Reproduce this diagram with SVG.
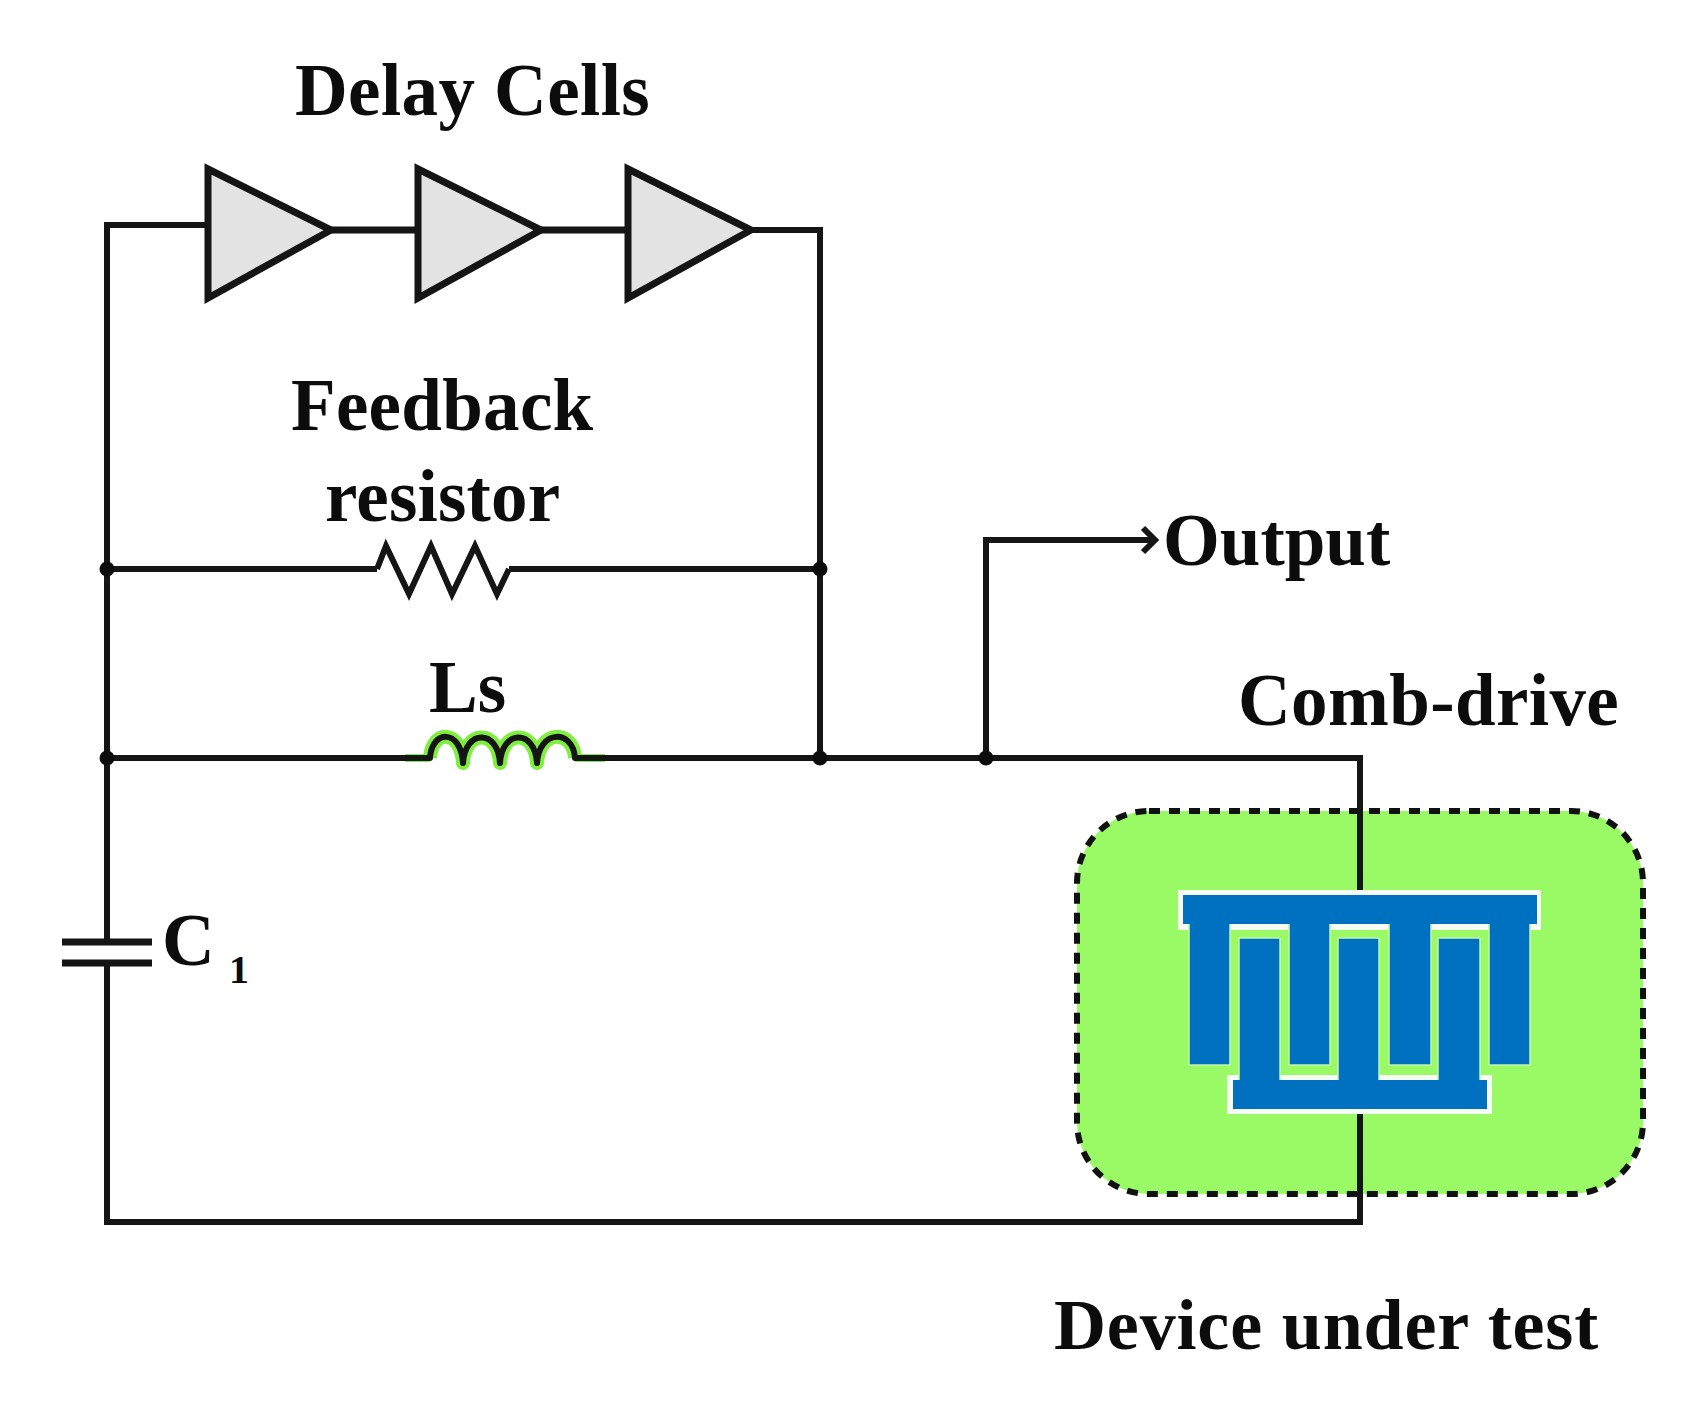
<svg xmlns="http://www.w3.org/2000/svg" width="1704" height="1417" viewBox="0 0 1704 1417">
<style>
.w{fill:none;stroke:#151515;stroke-width:6;stroke-linejoin:miter}
.b{fill:#0070c0;stroke:#c4f5b0;stroke-width:1.5}
.p{fill:#0070c0}
.h{fill:#f6fbf4}
.t{font-family:"Liberation Serif","Times New Roman",serif;font-weight:700;font-size:73px;fill:#0c0c0c}
.tri{fill:#e3e3e3;stroke:#151515;stroke-width:7}
.d{fill:#0c0c0c}
</style>
<defs>
<marker id="arr" markerUnits="userSpaceOnUse" markerWidth="24" markerHeight="36" refX="16" refY="18" orient="auto"><path d="M4,6 L16,18 L4,30" fill="none" stroke="#151515" stroke-width="6"/></marker>
</defs>
<rect width="1704" height="1417" fill="#fff"/>
<g id="dut">
<rect x="1077" y="811" width="566" height="383" rx="72" fill="#99fa66" stroke="#111" stroke-width="6" stroke-dasharray="11 9"/>
</g>
<g id="connectors">
<path class="w" d="M210,225 H107 V942"/>
<path class="w" d="M107,963 V1222 H1360 V1105"/>
<path class="w" d="M1360,897 V758 H605"/>
<path class="w" d="M405,758 H107"/>
<path class="w" style="stroke-width:7" d="M330,230 H422 M540,230 H632"/>
<path class="w" d="M751,230 H820 V758"/>
<path class="w" d="M107,569 H377 M509,569 H820"/>
<path class="w" d="M986,758 V540 H1155" marker-end="url(#arr)"/>
</g>
<g id="comb-drive">
<path class="h" d="M1178,890 H1541 V930 H1178Z"/>
<path class="h" d="M1227,1075 H1492 V1114 H1227Z"/>
<rect x="1189" y="900" width="41" height="165" class="b"/>
<rect x="1289" y="900" width="41" height="165" class="b"/>
<rect x="1389" y="900" width="42" height="165" class="b"/>
<rect x="1489" y="900" width="41" height="165" class="b"/>
<rect x="1183" y="895" width="354" height="29" class="p"/>
<rect x="1239" y="938" width="41" height="150" class="b"/>
<rect x="1338" y="938" width="41" height="150" class="b"/>
<rect x="1438" y="938" width="42" height="150" class="b"/>
<rect x="1233" y="1080" width="254" height="29" class="p"/>
</g>
<g id="delay-cell-1"><path class="tri" d="M208,169 V298 L331,230Z"/></g>
<g id="delay-cell-2"><path class="tri" d="M418,169 V298 L541,230Z"/></g>
<g id="delay-cell-3"><path class="tri" d="M628,169 V298 L751,230Z"/></g>
<g id="feedback-resistor"><path class="w" d="M377,569 L386,546 L409,594 L431,546 L452,594 L475,546 L497,594 L509,569"/></g>
<g id="inductor">
<path d="M405,758 H430" fill="none" stroke="#7fee3f" stroke-width="8"/>
<path d="M575,758 H605" fill="none" stroke="#7fee3f" stroke-width="8"/>
<path d="M430,758 C432,729 461,729 463,763 C465,729 498,729 500,763 C502,729 535,729 537,763 C539,729 573,729 575,758" fill="none" stroke="#7fee3f" stroke-width="14" stroke-linejoin="round"/>
<path class="w" style="stroke-linejoin:round" d="M405,758 H430 C432,729 461,729 463,763 C465,729 498,729 500,763 C502,729 535,729 537,763 C539,729 573,729 575,758 H605"/>
</g>
<g id="capacitor"><path class="w" style="stroke-width:7" d="M62,942 H152 M62,963 H152"/></g>
<g id="junctions">
<circle class="d" cx="107" cy="569" r="7.5"/>
<circle class="d" cx="820" cy="569" r="7.5"/>
<circle class="d" cx="107" cy="758" r="7.5"/>
<circle class="d" cx="820" cy="758" r="7.5"/>
<circle class="d" cx="986" cy="758" r="7.5"/>
</g>
<g id="labels">
<text class="t" x="295" y="115" style="letter-spacing:.4px">Delay Cells</text>
<text class="t" x="291" y="430" style="letter-spacing:.3px">Feedback</text>
<text class="t" x="325" y="521" style="letter-spacing:.2px">resistor</text>
<text class="t" x="1163" y="565">Output</text>
<text class="t" x="1238" y="725" style="letter-spacing:.4px">Comb-drive</text>
<text class="t" x="1054" y="1349" style="font-size:72px;letter-spacing:.85px">Device under test</text>
<text class="t" x="429" y="712">Ls</text>
<text class="t" x="162" y="965">C</text>
<text class="t" x="229" y="983" style="font-size:40px">1</text>
</g>
</svg>
